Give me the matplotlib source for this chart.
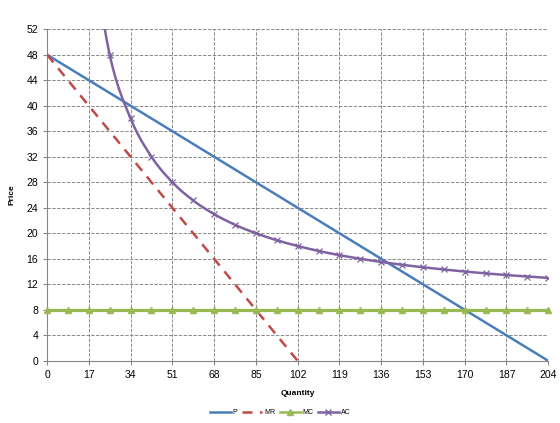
import numpy as np
import matplotlib
matplotlib.use("Agg")
import matplotlib.pyplot as plt
from matplotlib.lines import Line2D

# ---- data ----
p_q = [0, 204]
p_val = [48, 0]
mr_q = [0, 102]
mr_val = [48, 0]
mc_q = [0, 8.5, 17, 25.5, 34, 42.5, 51, 59.5, 68, 76.5, 85, 93.5, 102, 110.5,
        119, 127.5, 136, 144.5, 153, 161.5, 170, 178.5, 187, 195.5, 204]
mc_val = [8] * 25
ac_q = [17, 25.5, 34, 42.5, 51, 59.5, 68, 76.5, 85, 93.5, 102, 110.5, 119,
        127.5, 136, 144.5, 153, 161.5, 170, 178.5, 187, 195.5, 204]
ac_val = [68, 48, 38, 32, 28, 25.14, 23, 21.33, 20, 18.91, 18, 17.23, 16.57,
          16, 15.5, 15.06, 14.67, 14.32, 14, 13.71, 13.45, 13.22, 13]
x_ticks = [0, 17, 34, 51, 68, 85, 102, 119, 136, 153, 170, 187, 204]
y_ticks = [0, 4, 8, 12, 16, 20, 24, 28, 32, 36, 40, 44, 48, 52]

def catmull_rom(x, y, n=20):
    x = np.asarray(x, float); y = np.asarray(y, float)
    px = np.concatenate([[2*x[0]-x[1]], x, [2*x[-1]-x[-2]]])
    py = np.concatenate([[2*y[0]-y[1]], y, [2*y[-1]-y[-2]]])
    ox, oy = [], []
    t = np.linspace(0, 1, n, endpoint=False)
    for i in range(1, len(px)-2):
        for arr, out in ((px, ox), (py, oy)):
            p0, p1, p2, p3 = arr[i-1], arr[i], arr[i+1], arr[i+2]
            out.extend(0.5*((2*p1) + (-p0+p2)*t + (2*p0-5*p1+4*p2-p3)*t**2
                            + (-p0+3*p1-3*p2+p3)*t**3))
    ox.append(x[-1]); oy.append(y[-1])
    return np.array(ox), np.array(oy)

plt.rcParams['font.family'] = ['Liberation Sans', 'DejaVu Sans']

fig = plt.figure(figsize=(5.6, 4.23), dpi=100)
ax = fig.add_axes([0.084, 0.147, 0.895, 0.784])

c_p = '#4A7EBB'
c_mr = '#BE4B48'
c_mc = '#98B954'
c_ac = '#7E62A1'

ax.plot(p_q, p_val, color=c_p, lw=1.8, zorder=3)
ax.plot(mr_q, mr_val, color=c_mr, lw=1.8, ls=(0, (4, 3)), zorder=3)
ax.plot(mc_q, mc_val, color=c_mc, lw=2.3, marker='^', ms=5, zorder=3, clip_on=False)
sx, sy = catmull_rom(ac_q, ac_val)
ax.plot(sx, sy, color=c_ac, lw=1.8, zorder=4)
ax.plot(ac_q, ac_val, ls='none', marker='x', ms=5, mew=0.9, color=c_ac, zorder=5, clip_on=True)

ax.set_xlim(0, 204)
ax.set_ylim(0, 52)
ax.set_xticks(x_ticks)
ax.set_yticks(y_ticks)
ax.tick_params(labelsize=7.5, length=3, color='#868686', width=0.8)
ax.grid(True, color='#8a8a8a', ls=(0, (3.5, 1.5)), lw=0.7)
ax.set_axisbelow(True)
for s in ('top', 'right'):
    ax.spines[s].set_visible(False)
for s in ('left', 'bottom'):
    ax.spines[s].set_color('#868686')
    ax.spines[s].set_linewidth(0.8)

ax.set_xlabel('Quantity', fontsize=6, fontweight='bold', labelpad=7)
ax.set_ylabel('Price', fontsize=6, fontweight='bold', labelpad=8)

handles = [
    Line2D([], [], color=c_p, lw=1.8),
    Line2D([], [], color=c_mr, lw=1.8, ls=(0, (4, 3))),
    Line2D([], [], color=c_mc, lw=1.8, marker='^', ms=4),
    Line2D([], [], color=c_ac, lw=1.8, marker='x', ms=4),
]
fig.legend(handles, ['P', 'MR', 'MC', 'AC'], loc='center', bbox_to_anchor=(0.5, 0.024),
           ncol=4, frameon=False, fontsize=5, handlelength=3, columnspacing=0.6,
           handletextpad=0.3)

fig.savefig('out.png', dpi=100)
